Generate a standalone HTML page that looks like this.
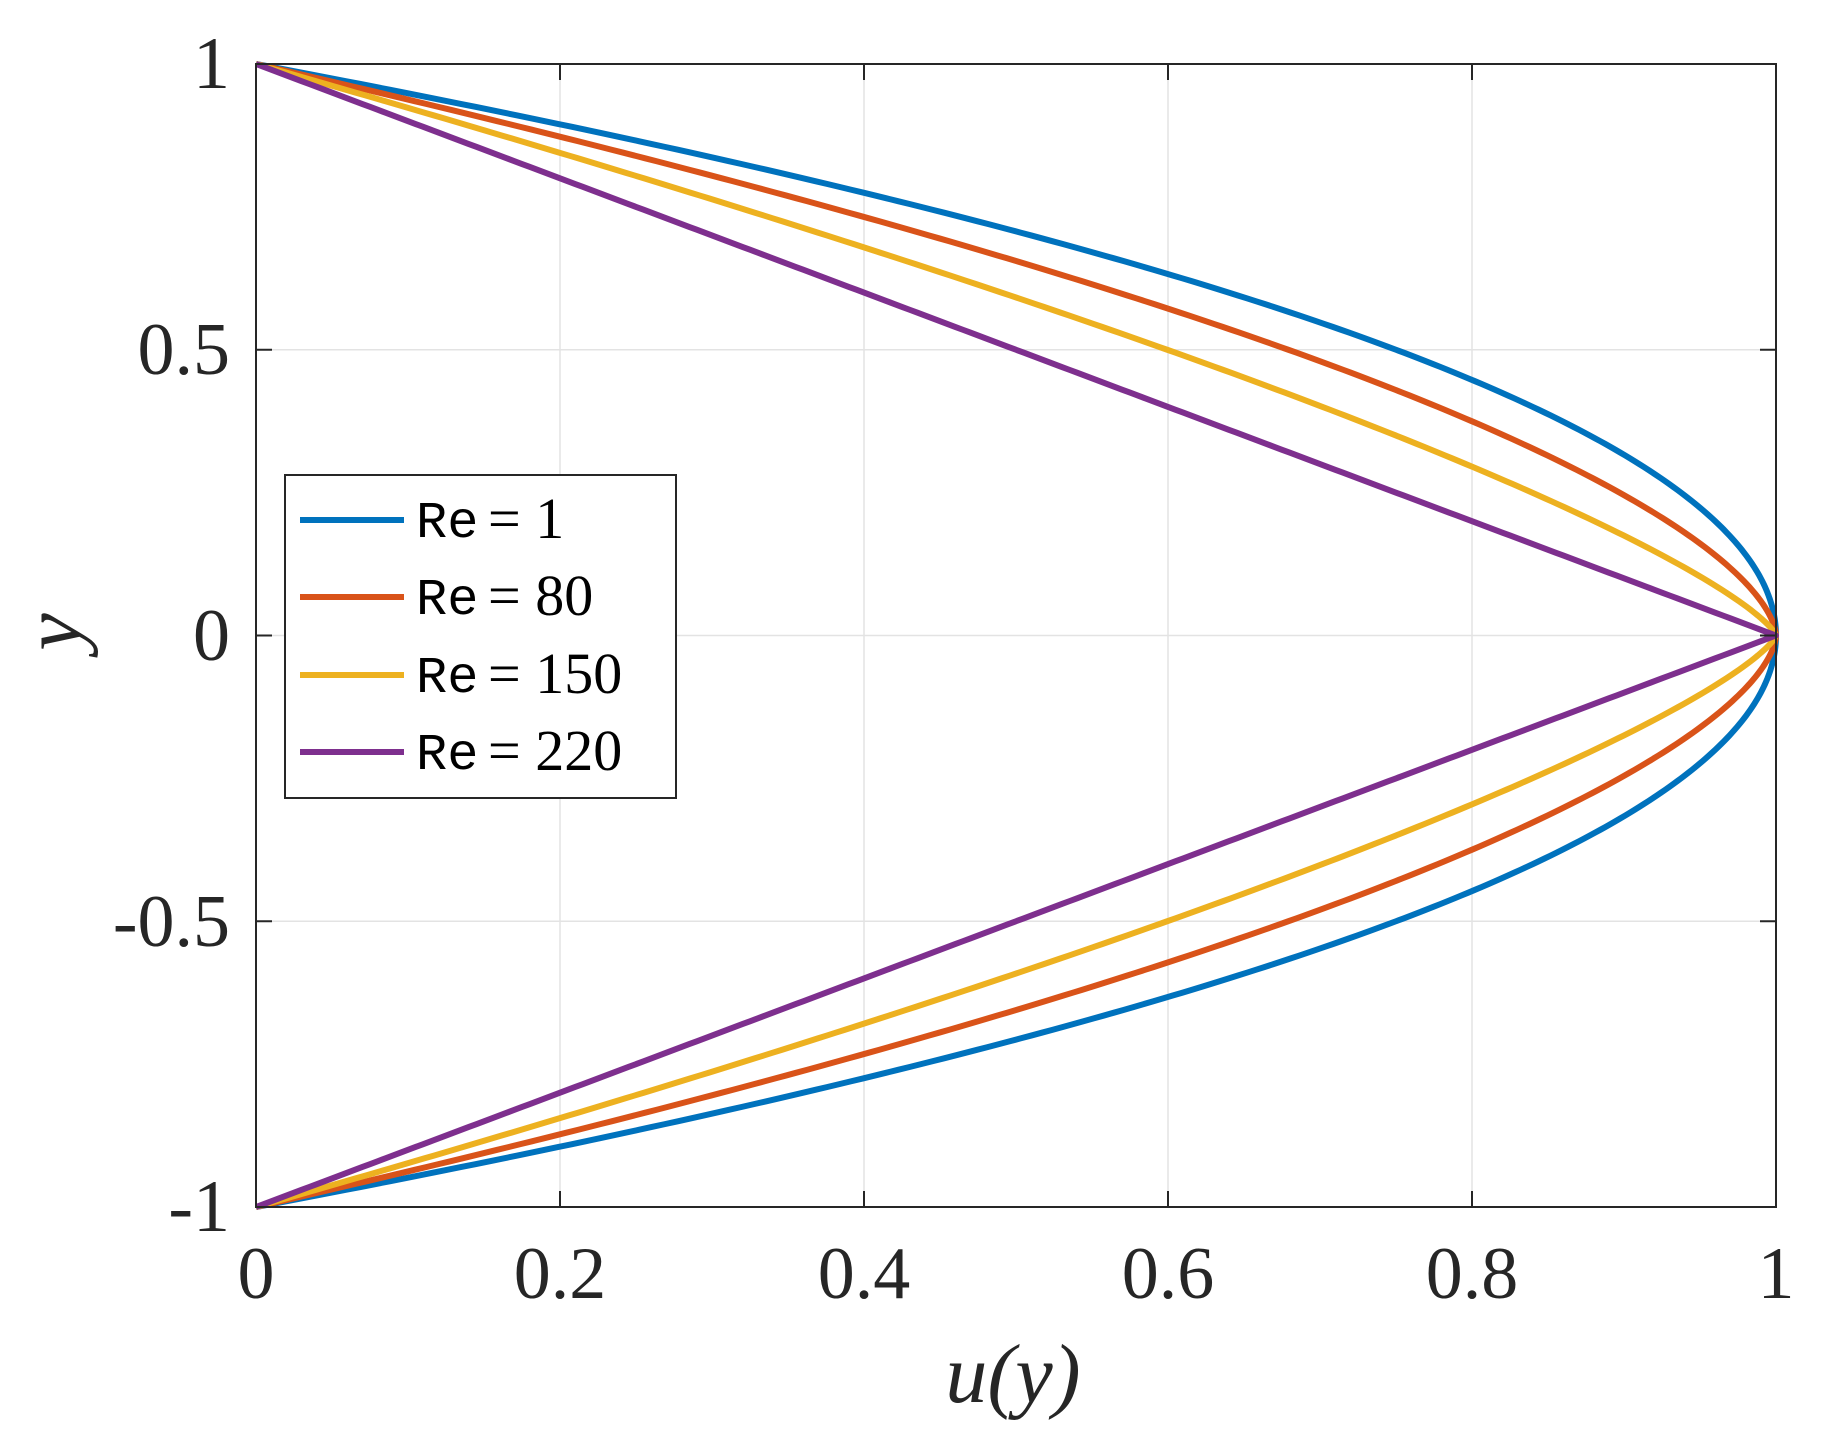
<!DOCTYPE html>
<html><head><style>
html,body{margin:0;padding:0;background:#fff;}
svg{display:block}
.mo{font-family:"Liberation Mono",monospace;font-size:52px;fill:#000}
.se{font-family:"Liberation Serif",serif;font-size:58px;fill:#000}
</style></head><body>
<svg id="s" width="1821" height="1440" viewBox="0 0 1821 1440" xmlns="http://www.w3.org/2000/svg">
<rect width="1821" height="1440" fill="#fff"/>
<g id="grid" stroke="#e3e3e3" stroke-width="1.5"></g>
<g id="curves" fill="none" stroke-width="6" stroke-linejoin="round"></g>
<rect x="256" y="64" width="1520" height="1143" fill="none" stroke="#262626" stroke-width="2"/>
<g id="ticks" stroke="#262626" stroke-width="2"></g>
<g font-family="Liberation Serif, serif" font-size="74" fill="#262626" text-anchor="end">
<text x="230" y="88">1</text>
<text x="230" y="374">0.5</text>
<text x="230" y="660">0</text>
<text x="230" y="946">-0.5</text>
<text x="230" y="1231">-1</text>
</g>
<g font-family="Liberation Serif, serif" font-size="74" fill="#262626" text-anchor="middle">
<text x="256" y="1298">0</text>
<text x="560" y="1298">0.2</text>
<text x="864" y="1298">0.4</text>
<text x="1168" y="1298">0.6</text>
<text x="1472" y="1298">0.8</text>
<text x="1776" y="1298">1</text>
</g>
<text font-family="Liberation Serif, serif" font-size="84" fill="#262626" x="1013" y="1402" text-anchor="middle" font-style="italic">u(y)</text>
<text font-family="Liberation Serif, serif" font-size="84" fill="#262626" x="0" y="0" text-anchor="middle" font-style="italic" transform="translate(80,632) rotate(-90)">y</text>
<rect x="285" y="475" width="391" height="323" fill="#fff" stroke="#262626" stroke-width="2"/>
<g stroke-width="6">
<line x1="300" y1="520" x2="404" y2="520" stroke="#0072BD"/>
<line x1="300" y1="597" x2="404" y2="597" stroke="#D95319"/>
<line x1="300" y1="675" x2="404" y2="675" stroke="#EDB120"/>
<line x1="300" y1="752" x2="404" y2="752" stroke="#7E2F8E"/>
</g>
<text class="mo" x="416" y="537">Re</text><text class="se" x="488" y="538">= 1</text>
<text class="mo" x="416" y="614">Re</text><text class="se" x="488" y="615">= 80</text>
<text class="mo" x="416" y="692">Re</text><text class="se" x="488" y="693">= 150</text>
<text class="mo" x="416" y="769">Re</text><text class="se" x="488" y="770">= 220</text>
</svg>
<script>
var L=256,R=1776,T=64,B=1207,W=R-L,H=B-T;
function X(u){return L+u*W} function Y(y){return T+(1-y)/2*H}
var ns="http://www.w3.org/2000/svg";
var g=document.getElementById('grid'),tk=document.getElementById('ticks'),cv=document.getElementById('curves');
function ln(p,a,b,c,d){var e=document.createElementNS(ns,'line');e.setAttribute('x1',a);e.setAttribute('y1',b);e.setAttribute('x2',c);e.setAttribute('y2',d);p.appendChild(e);}
for(var i=1;i<5;i++){var x=X(i*0.2);ln(g,x,T,x,B);ln(tk,x,B,x,B-16);ln(tk,x,T,x,T+16);}
[0.5,0,-0.5].forEach(function(y){var yy=Y(y);ln(g,L,yy,R,yy);ln(tk,L,yy,L+16,yy);ln(tk,R,yy,R-16,yy);});
[[2,"#0072BD"],[1.64,"#D95319"],[1.32,"#EDB120"],[1,"#7E2F8E"]].forEach(function(c){
var d="";for(var k=0;k<=400;k++){var y=-1+2*k/400;var u=1-Math.pow(Math.abs(y),c[0]);d+=(k?"L":"M")+X(u).toFixed(2)+","+Y(y).toFixed(2);}
var p=document.createElementNS(ns,'path');p.setAttribute('d',d);p.setAttribute('stroke',c[1]);cv.appendChild(p);});
</script>
</body></html>
